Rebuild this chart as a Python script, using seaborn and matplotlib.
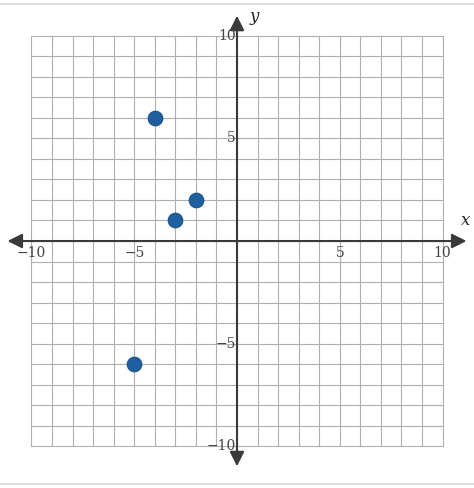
import numpy as np
import pandas as pd
import seaborn as sns
import matplotlib
matplotlib.use('Agg')
import matplotlib.pyplot as plt

# points
xs = [-4, -3, -2, -5]
ys = [6, 1, 2, -6]
ticks = [-10, -5, 5, 10]

df = pd.DataFrame({'x': xs, 'y': ys})

sns.set_style('white')
fig = plt.figure(figsize=(4.74, 4.88), dpi=100)
ax = fig.add_axes([0, 0, 1, 1])
ax.set_xlim(-11.53, 11.53)
ax.set_ylim(-12.02, 11.73)
ax.axis('off')

# grid
for v in range(-10, 11):
    ax.plot([v, v], [-10, 10], color='#b0b0b0', lw=0.8, zorder=1)
    ax.plot([-10, 10], [v, v], color='#b0b0b0', lw=0.8, zorder=1)

# axes with arrows
ax.annotate('', xy=(-11.3, 0), xytext=(11.3, 0),
            arrowprops=dict(arrowstyle='<|-|>', color='#3a3a3a', lw=1.5, mutation_scale=22), zorder=2)
ax.annotate('', xy=(0, 11.1), xytext=(0, -11.1),
            arrowprops=dict(arrowstyle='<|-|>', color='#3a3a3a', lw=1.5, mutation_scale=22), zorder=2)

for t in ticks:
    lbl = str(t).replace('-', '\u2212')
    ax.text(t, -0.25, lbl, ha='center', va='top', fontsize=10,
            family='DejaVu Serif', color='#444444')
    ax.text(-0.05, t, lbl, ha='right', va='center', fontsize=10,
            family='DejaVu Serif', color='#444444')
ax.text(10.9, 0.8, 'x', fontsize=12, style='italic', family='DejaVu Serif')
ax.text(0.6, 10.7, 'y', fontsize=12, style='italic', family='DejaVu Serif')

sns.scatterplot(data=df, x='x', y='y', ax=ax, s=110, color='#1f5fa0',
                edgecolor='#1a4f8a', linewidth=0.8, zorder=3)
ax.axis('off')

# light frame lines top and bottom
fig.add_artist(plt.Line2D([0, 1], [0.992, 0.992], color='#dddddd', lw=1.5))
fig.add_artist(plt.Line2D([0, 1], [0.008, 0.008], color='#dddddd', lw=1.5))

plt.savefig('out.png', dpi=100)
